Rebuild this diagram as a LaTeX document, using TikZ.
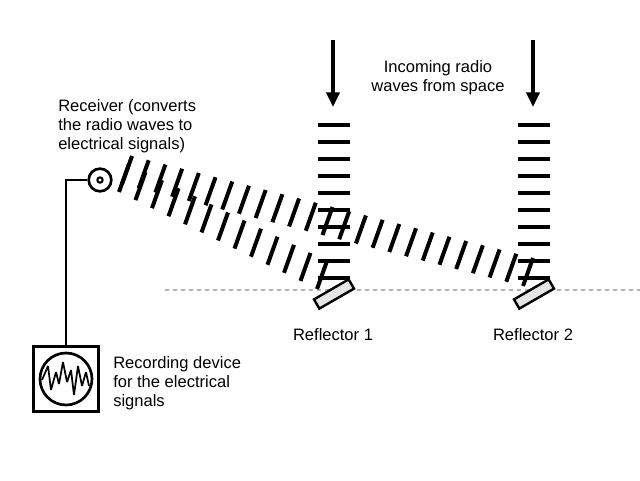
\documentclass[tikz,border=0pt]{standalone}
\usepackage{fontspec}
\setmainfont{Liberation Sans}
\usetikzlibrary{calc,arrows.meta}
\begin{document}
\begin{tikzpicture}[x=0.75pt,y=-0.75pt,
  tick/.style={line width=3pt},
  lbl/.style={font=\fontsize{12.4}{14.2}\selectfont,align=left},
  refl/.style={draw,line width=1.8pt,fill=black!10,minimum width=30pt,minimum height=8pt,inner sep=0pt}]
\useasboundingbox (0,0) rectangle (640,480);
\draw[gray!60,dashed,line width=1pt] (165,290) -- (640,290);
% incoming arrows
\coordinate (a1s) at (333,40); \coordinate (a1e) at (333,107);
\coordinate (a2s) at (533,40); \coordinate (a2e) at (533,107);
\draw[line width=2.4pt,-{Triangle[length=11pt,width=10pt]}] (a1s) -- (a1e);
\draw[line width=2.4pt,-{Triangle[length=11pt,width=10pt]}] (a2s) -- (a2e);
% horizontal ticks
\foreach \k in {0,...,9}{
  \draw[tick] (318,125+17*\k) -- (350,125+17*\k);
  \draw[tick] (518,125+17*\k) -- (550,125+17*\k);
}
% reflected waves
\coordinate (w1s) at (124,178); \coordinate (w1e) at (322,275);
\coordinate (w2s) at (127,170); \coordinate (w2e) at (528,272);
\foreach \i in {0,...,12}{
  \path ($(w1s)!\i/12!(w1e)$) coordinate (p);
  \draw[tick] ($(p)+(5,-14)$) -- ($(p)+(-5,14)$);
}
\foreach \i in {0,...,24}{
  \path ($(w2s)!\i/24!(w2e)$) coordinate (p);
  \draw[tick] ($(p)+(5,-14)$) -- ($(p)+(-5,14)$);
}
% reflectors
\node[refl,rotate=30] (r1) at (334,294) {};
\node[refl,rotate=30] (r2) at (534,294) {};
% receiver
\node[draw,circle,line width=2pt,minimum size=17pt,inner sep=0pt,fill=white] (rx) at (100,180) {};
\node[draw,circle,line width=1.5pt,minimum size=4pt,inner sep=0pt] at (rx) {};
% recorder
\node[draw,line width=2pt,minimum size=49pt,inner sep=0pt] (rec) at (66,379) {};
\draw[line width=2pt] (rx.west) -| (rec.north);
\draw[line width=2pt] (rec.center) circle (26);
\draw[line width=1.3pt,line join=bevel] (42,380) -- (48,366) -- (51,390) -- (56,372) -- (59,384) -- (63,362) -- (67,382) -- (71,370) -- (74,395) -- (78,366) -- (82,386) -- (86,372) -- (89,386);
% labels
\node[lbl,anchor=north west,inner sep=0pt] (t1) at (58,99) {Receiver (converts\\the radio waves to\\electrical signals)};
\node[lbl,align=center] (t2) at (438,78) {Incoming radio\\waves from space};
\node[lbl] (t3) at (333,335) {Reflector 1};
\node[lbl] (t4) at (533,335) {Reflector 2};
\node[lbl,anchor=north west,inner sep=0pt] (t5) at (113,356) {Recording device\\for the electrical\\signals};
\end{tikzpicture}
\end{document}
